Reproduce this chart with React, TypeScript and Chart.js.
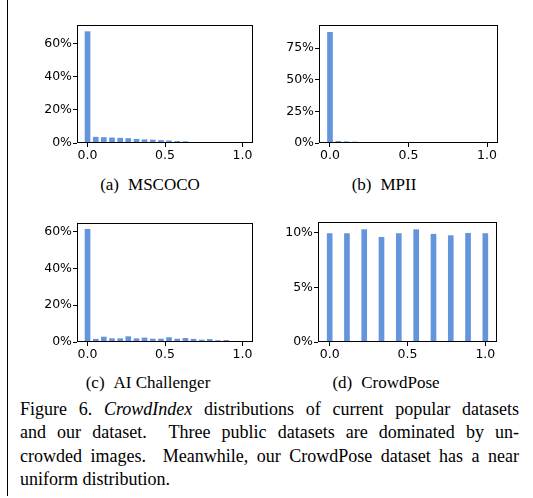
import React, { useEffect, useRef } from "react";
import { Chart, registerables } from "chart.js";

Chart.register(...registerables);

// ---- data ----
const bins20 = [0, 0.053, 0.105, 0.158, 0.211, 0.263, 0.316, 0.368, 0.421, 0.474, 0.526, 0.579, 0.632, 0.684, 0.737, 0.789, 0.842, 0.895, 0.947, 1.0];
const bins10 = [0, 0.111, 0.222, 0.333, 0.444, 0.556, 0.667, 0.778, 0.889, 1.0];

const mscocoValues = [67.0, 3.5, 3.3, 3.1, 2.9, 2.7, 2.2, 2.0, 1.8, 1.5, 1.3, 1.0, 0.8, 0.4, 0.2, 0.4, 0.1, 0.1, 0.05, 0.05];
const mpiiValues = [87.6, 1.3, 1.0, 0.8, 0.5, 0.4, 0.3, 0.2, 0.1, 0.1, 0.1, 0.05, 0.05, 0.05, 0.05, 0.02, 0.02, 0.02, 0.02, 0.02];
const aicValues = [61.2, 1.5, 2.7, 1.8, 1.8, 2.9, 1.8, 2.2, 1.6, 1.6, 2.4, 1.6, 2.0, 1.5, 1.1, 1.4, 0.8, 0.9, 0.4, 0.2];
const crowdposeValues = [9.94, 9.94, 10.3, 9.6, 9.94, 10.3, 9.88, 9.75, 9.97, 9.94];

const xTickValues = [0, 0.5, 1.0];
const yTicksA = [0, 20, 40, 60];
const yTicksB = [0, 25, 50, 75];
const yTicksC = [0, 20, 40, 60];
const yTicksD = [0, 5, 10];

const subCaptions = ["(a) MSCOCO", "(b) MPII", "(c) AI Challenger", "(d) CrowdPose"];

// ---- styling ----
const BAR_COLOR = "#6494dc";
const YW = 50;
const PAD = 10;
const XH = 20;
const TICK_FONT = { family: "DejaVu Sans", size: 12.5 };

const framePlugin = {
  id: "frame",
  afterDraw(chart: any) {
    const { ctx, chartArea: a } = chart;
    ctx.save();
    ctx.strokeStyle = "#000";
    ctx.lineWidth = 1;
    const l = Math.round(a.left) + 0.5;
    const t = Math.round(a.top) + 0.5;
    const r = Math.round(a.right) - 0.5;
    const b = Math.round(a.bottom) - 0.5;
    ctx.strokeRect(l, t, r - l, b - t);
    ctx.restore();
  },
};

type PanelProps = {
  left: number;
  top: number;
  w: number;
  h: number;
  xs: number[];
  ys: number[];
  xMin: number;
  xMax: number;
  yMax: number;
  yTicks: number[];
};

function Panel({ left, top, w, h, xs, ys, xMin, xMax, yMax, yTicks }: PanelProps) {
  const ref = useRef<HTMLCanvasElement | null>(null);
  const cw = YW + w + PAD;
  const ch = PAD + h + XH;
  useEffect(() => {
    if (!ref.current) return;
    const chart = new Chart(ref.current, {
      type: "bar",
      data: {
        datasets: [
          {
            data: xs.map((x, i) => ({ x, y: ys[i] })) as any,
            backgroundColor: BAR_COLOR,
            borderWidth: 0,
            barThickness: 5,
          },
        ],
      },
      options: {
        animation: false,
        responsive: false,
        maintainAspectRatio: false,
        layout: { padding: { left: 0, top: PAD, right: PAD, bottom: 0 } },
        plugins: { legend: { display: false }, tooltip: { enabled: false } },
        scales: {
          x: {
            type: "linear",
            min: xMin,
            max: xMax,
            offset: false,
            afterBuildTicks: (s: any) => {
              s.ticks = xTickValues.map((v) => ({ value: v }));
            },
            afterFit: (s: any) => {
              s.height = XH;
            },
            ticks: {
              callback: (v: any) => Number(v).toFixed(1),
              font: TICK_FONT,
              color: "#000",
              padding: 1,
              maxRotation: 0,
              autoSkip: false,
            },
            grid: { drawOnChartArea: false, drawTicks: true, tickLength: 4, tickColor: "#000", offset: false },
            border: { display: false },
          },
          y: {
            type: "linear",
            min: 0,
            max: yMax,
            afterBuildTicks: (s: any) => {
              s.ticks = yTicks.map((v) => ({ value: v }));
            },
            afterFit: (s: any) => {
              s.width = YW;
            },
            ticks: {
              callback: (v: any) => `${v}%`,
              font: TICK_FONT,
              color: "#000",
              padding: 1,
            },
            grid: { drawOnChartArea: false, drawTicks: true, tickLength: 4, tickColor: "#000" },
            border: { display: false },
          },
        },
      } as any,
      plugins: [framePlugin],
    });
    return () => chart.destroy();
  }, []);
  return (
    <canvas
      ref={ref}
      width={cw}
      height={ch}
      style={{ position: "absolute", left: left - YW, top: top - PAD, width: cw, height: ch }}
    />
  );
}

function SubCaption({ cx, cy, text }: { cx: number; cy: number; text: string }) {
  const parts = text.split(" ");
  const first = parts[0];
  const rest = parts.slice(1).join(" ");
  return (
    <div
      style={{
        position: "absolute",
        left: cx - 120,
        top: cy - 10,
        width: 240,
        height: 20,
        lineHeight: "20px",
        textAlign: "center",
        fontFamily: "'Liberation Serif', serif",
        fontSize: 17,
        color: "#000",
        whiteSpace: "nowrap",
      }}
    >
      {first}
      <span style={{ display: "inline-block", width: 9 }} />
      {rest}
    </div>
  );
}

const lineStyle: React.CSSProperties = {
  textAlign: "justify",
  textAlignLast: "justify" as any,
  whiteSpace: "normal",
  height: "23.3px",
  overflow: "visible",
};

export default function App() {
  return (
    <div
      style={{
        position: "absolute",
        left: 0,
        top: 0,
        width: 533,
        height: 498,
        background: "#fff",
        overflow: "hidden",
      }}
    >
      <div style={{ position: "absolute", left: 7, top: 0, width: 1, height: 496, background: "#000" }} />

      <Panel left={77} top={25} w={176} h={118} xs={bins20} ys={mscocoValues} xMin={-0.068} xMax={1.068} yMax={71} yTicks={yTicksA} />
      <Panel left={319} top={25} w={179} h={118} xs={bins20} ys={mpiiValues} xMin={-0.07} xMax={1.07} yMax={93.4} yTicks={yTicksB} />
      <Panel left={77} top={223} w={176} h={119} xs={bins20} ys={aicValues} xMin={-0.068} xMax={1.068} yMax={64.6} yTicks={yTicksC} />
      <Panel left={318} top={222} w={179} h={120} xs={bins10} ys={crowdposeValues} xMin={-0.075} xMax={1.075} yMax={11.0} yTicks={yTicksD} />

      <SubCaption cx={150} cy={185} text={subCaptions[0]} />
      <SubCaption cx={384} cy={185} text={subCaptions[1]} />
      <SubCaption cx={148} cy={383} text={subCaptions[2]} />
      <SubCaption cx={386} cy={383} text={subCaptions[3]} />

      <div
        style={{
          position: "absolute",
          left: 20,
          top: 398,
          width: 499,
          fontFamily: "'Liberation Serif', serif",
          fontSize: 18,
          lineHeight: "23.3px",
          color: "#000",
        }}
      >
        <div style={lineStyle}>
          Figure 6. <i>CrowdIndex</i> distributions of current popular datasets
        </div>
        <div style={lineStyle}>and our dataset.&nbsp; Three public datasets are dominated by un-</div>
        <div style={lineStyle}>crowded images.&nbsp; Meanwhile, our CrowdPose dataset has a near</div>
        <div style={{ textAlign: "left", height: "23.3px" }}>uniform distribution.</div>
      </div>
    </div>
  );
}
